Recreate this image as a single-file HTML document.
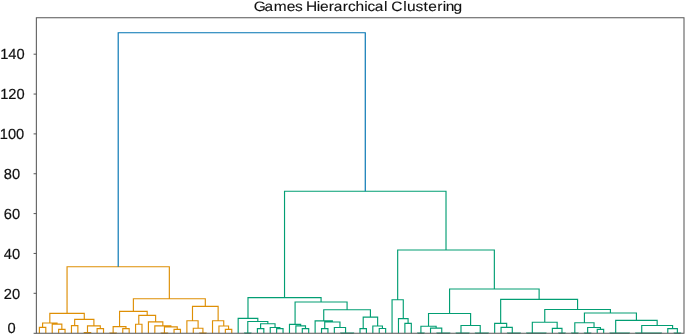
<!DOCTYPE html>
<html><head><meta charset="utf-8"><title>Games Hierarchical Clustering</title>
<style>
html,body{margin:0;padding:0;background:#fff;}
body{width:685px;height:335px;overflow:hidden;}
svg{display:block;}
text{text-rendering:geometricPrecision;}
.t{font-family:"Liberation Sans",Arial,sans-serif;font-size:14.67px;fill:#111;stroke:#111;stroke-width:0.2px;}
.h{font-family:"Liberation Sans",Arial,sans-serif;font-size:15.5px;fill:#111;stroke:#111;stroke-width:0.12px;}
</style></head><body>
<svg width="685" height="335" viewBox="0 0 685 335">
<rect width="685" height="335" fill="#fff"/>
<path d="M244.58 333.20V333.10H251.00V333.20M257.41 333.20V328.60H263.82V333.20M276.64 333.20V328.60H283.06V333.20M270.23 333.20V327.50H279.85V328.60M260.61 328.60V323.70H275.04V327.50M247.79 333.10V321.50H267.83V323.70M238.17 333.20V318.30H257.81V321.50M302.29 333.20V328.60H308.70V333.20M295.88 333.20V325.80H305.50V328.60M289.47 333.20V324.40H300.69V325.80M321.53 333.20V328.60H327.94V333.20M347.18 333.20V333.10H353.59V333.20M340.76 333.20V333.10H350.38V333.10M334.35 333.20V327.50H345.57V333.10M324.73 328.60V322.00H339.96V327.50M315.12 333.20V320.90H332.35V322.00M360.00 333.20V328.60H366.41V333.20M379.24 333.20V328.50H385.65V333.20M372.82 333.20V326.00H382.44V328.50M363.21 328.60V317.10H377.63V326.00M323.73 320.90V309.70H370.42V317.10M295.08 324.40V302.00H347.08V309.70M247.99 318.30V297.65H321.08V302.00M404.88 333.20V323.40H411.30V333.20M398.47 333.20V318.60H408.09V323.40M392.06 333.20V299.70H403.28V318.60M417.71 333.20V333.10H424.12V333.20M443.36 333.20V333.10H449.77V333.20M436.94 333.20V333.10H446.56V333.10M430.53 333.20V328.10H441.75V333.10M420.91 333.10V326.20H436.14V328.10M462.59 333.20V333.10H469.00V333.20M456.18 333.20V333.10H465.80V333.10M481.83 333.20V333.10H488.24V333.20M475.42 333.20V333.10H485.03V333.10M460.99 333.10V325.50H480.23V333.10M428.53 326.20V313.45H470.61V325.50M513.89 333.20V333.10H520.30V333.20M507.48 333.20V333.10H517.09V333.10M501.06 333.20V327.40H512.29V333.10M494.65 333.20V323.40H506.67V327.40M539.54 333.20V333.10H545.95V333.20M533.12 333.20V333.10H542.74V333.10M526.71 333.20V333.10H537.93V333.10M558.77 333.20V333.10H565.18V333.20M552.36 333.20V328.40H561.98V333.10M532.32 333.10V322.20H557.17V328.40M571.60 333.20V333.10H578.01V333.20M584.42 333.20V333.10H590.83V333.20M597.24 333.20V329.30H603.66V333.20M587.63 333.10V327.50H600.45V329.30M574.80 333.10V322.70H594.04V327.50M622.89 333.20V333.10H629.30V333.20M616.48 333.20V333.10H626.10V333.10M610.07 333.20V333.10H621.29V333.10M654.95 333.20V333.10H661.36V333.20M648.54 333.20V333.10H658.16V333.10M642.13 333.20V333.10H653.35V333.10M635.72 333.20V333.10H647.74V333.10M674.19 333.20V333.10H680.60V333.20M667.78 333.20V328.60H677.39V333.10M641.73 333.10V325.50H672.59V328.60M615.68 333.10V320.30H657.16V325.50M584.42 322.70V313.00H636.42V320.30M544.75 322.20V309.45H610.42V313.00M500.66 323.40V299.35H577.58V309.45M449.57 313.45V289.00H539.12V299.35M397.67 299.70V250.00H494.35V289.00M284.53 297.65V191.25H446.01V250.00" fill="none" stroke="#029E73" stroke-width="1.15" stroke-linejoin="miter"/>
<path d="M39.40 333.20V327.30H45.81V333.20M58.64 333.20V329.30H65.05V333.20M52.22 333.20V324.10H61.84V329.30M42.61 327.30V322.95H57.03V324.10M71.46 333.20V325.60H77.87V333.20M84.28 333.20V332.60H90.70V333.20M97.11 333.20V328.60H103.52V333.20M87.49 332.60V325.80H100.31V328.60M74.67 325.60V319.35H93.90V325.80M49.82 322.95V313.35H84.28V319.35M109.93 333.20V333.10H116.34V333.20M122.76 333.20V328.60H129.17V333.20M113.14 333.10V326.60H125.96V328.60M135.58 333.20V324.20H141.99V333.20M161.23 333.20V333.10H167.64V333.20M174.05 333.20V329.30H180.46V333.20M164.43 333.10V326.80H177.26V329.30M154.82 333.20V325.80H170.85V326.80M148.40 333.20V321.80H162.83V325.80M138.79 324.20V315.30H155.62V321.80M119.55 326.60V311.30H147.20V315.30M199.70 333.20V333.10H206.11V333.20M193.29 333.20V328.20H202.91V333.10M186.88 333.20V320.70H198.10V328.20M225.35 333.20V329.30H231.76V333.20M218.94 333.20V326.00H228.55V329.30M212.52 333.20V320.70H223.74V326.00M192.49 320.70V306.35H218.13V320.70M133.38 311.30V298.75H205.31V306.35M67.05 313.35V266.75H169.34V298.75" fill="none" stroke="#DE8F05" stroke-width="1.15" stroke-linejoin="miter"/>
<path d="M118.20 266.75V32.75H365.27V191.25" fill="none" stroke="#0173B2" stroke-width="1.15" stroke-linejoin="miter"/>
<path d="M36.35 17.75H684V333.3H36.35Z" fill="none" stroke="#555" stroke-width="1.03"/>
<path d="M33.6 333.30H36.4" stroke="#555" stroke-width="1"/>
<path d="M33.6 293.30H36.4" stroke="#555" stroke-width="1"/>
<path d="M33.6 253.45H36.4" stroke="#555" stroke-width="1"/>
<path d="M33.6 213.60H36.4" stroke="#555" stroke-width="1"/>
<path d="M33.6 173.75H36.4" stroke="#555" stroke-width="1"/>
<path d="M33.6 133.90H36.4" stroke="#555" stroke-width="1"/>
<path d="M33.6 94.05H36.4" stroke="#555" stroke-width="1"/>
<path d="M33.6 54.20H36.4" stroke="#555" stroke-width="1"/>
<text transform="translate(11.7 333.45) scale(1 1)" text-anchor="middle" class="t">0</text>
<text transform="translate(11.9 298.50) scale(1 1)" text-anchor="middle" class="t">20</text>
<text transform="translate(11.9 258.65) scale(1 1)" text-anchor="middle" class="t">40</text>
<text transform="translate(11.9 218.80) scale(1 1)" text-anchor="middle" class="t">60</text>
<text transform="translate(11.9 178.95) scale(1 1)" text-anchor="middle" class="t">80</text>
<text transform="translate(12.0 139.10) scale(1 1)" text-anchor="middle" class="t">100</text>
<text transform="translate(12.4 99.25) scale(1 1)" text-anchor="middle" class="t">120</text>
<text transform="translate(12.4 59.40) scale(1 1)" text-anchor="middle" class="t">140</text>
<text transform="translate(0 10.75) scale(1 0.885)" x="253.83 264.56 273.63 286.8 294.94 300.94 305.95 316.68 319.9 328.63 333.71 342.78 348.05 355.61 364.28 367.55 374.86 384.1 390.1 391.3 403.2 406.9 415.39 423.49 428.35 437.16 442.83 445.68 453.56" y="0" class="h">Games Hierarchical Clustering</text>
</svg>
</body></html>
